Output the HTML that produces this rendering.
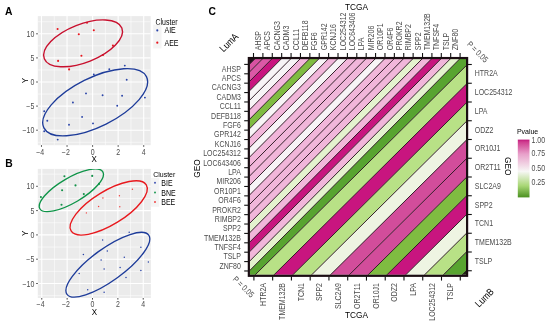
<!DOCTYPE html>
<html><head><meta charset="utf-8"><style>
html,body{margin:0;padding:0;background:#fff;width:550px;height:329px;overflow:hidden;position:relative}
svg text{font-family:"Liberation Sans", sans-serif}
</style></head><body>
<svg width="550" height="329" viewBox="0 0 550 329" style="position:absolute;left:0;top:0;will-change:transform" font-family='"Liberation Sans", sans-serif'>
<rect width="550" height="329" fill="#fff"/>
<text transform="translate(5.1 14.5)" font-size="10.3" fill="#000" text-anchor="start" font-weight="bold">A</text>
<text transform="translate(5.3 167.1)" font-size="10.3" fill="#000" text-anchor="start" font-weight="bold">B</text>
<text transform="translate(208.5 14.5)" font-size="10.3" fill="#000" text-anchor="start" font-weight="bold">C</text>
<rect x="37.8" y="16.1" width="112.9" height="129.1" fill="#EBEBEB"/>
<clipPath id="cA"><rect x="37.8" y="16.1" width="112.9" height="129.1"/></clipPath>
<g clip-path="url(#cA)">
<line x1="28.7" y1="16.1" x2="28.7" y2="145.2" stroke="#fff" stroke-width="0.55"/>
<line x1="54.26" y1="16.1" x2="54.26" y2="145.2" stroke="#fff" stroke-width="0.55"/>
<line x1="79.82" y1="16.1" x2="79.82" y2="145.2" stroke="#fff" stroke-width="0.55"/>
<line x1="105.38" y1="16.1" x2="105.38" y2="145.2" stroke="#fff" stroke-width="0.55"/>
<line x1="130.94" y1="16.1" x2="130.94" y2="145.2" stroke="#fff" stroke-width="0.55"/>
<line x1="156.5" y1="16.1" x2="156.5" y2="145.2" stroke="#fff" stroke-width="0.55"/>
<line x1="37.8" y1="142.25" x2="150.7" y2="142.25" stroke="#fff" stroke-width="0.55"/>
<line x1="37.8" y1="118.15" x2="150.7" y2="118.15" stroke="#fff" stroke-width="0.55"/>
<line x1="37.8" y1="94.05" x2="150.7" y2="94.05" stroke="#fff" stroke-width="0.55"/>
<line x1="37.8" y1="69.95" x2="150.7" y2="69.95" stroke="#fff" stroke-width="0.55"/>
<line x1="37.8" y1="45.85" x2="150.7" y2="45.85" stroke="#fff" stroke-width="0.55"/>
<line x1="37.8" y1="21.75" x2="150.7" y2="21.75" stroke="#fff" stroke-width="0.55"/>
<line x1="41.48" y1="16.1" x2="41.48" y2="145.2" stroke="#fff" stroke-width="1.1"/>
<line x1="67.04" y1="16.1" x2="67.04" y2="145.2" stroke="#fff" stroke-width="1.1"/>
<line x1="92.6" y1="16.1" x2="92.6" y2="145.2" stroke="#fff" stroke-width="1.1"/>
<line x1="118.16" y1="16.1" x2="118.16" y2="145.2" stroke="#fff" stroke-width="1.1"/>
<line x1="143.72" y1="16.1" x2="143.72" y2="145.2" stroke="#fff" stroke-width="1.1"/>
<line x1="37.8" y1="130.2" x2="150.7" y2="130.2" stroke="#fff" stroke-width="1.1"/>
<line x1="37.8" y1="106.1" x2="150.7" y2="106.1" stroke="#fff" stroke-width="1.1"/>
<line x1="37.8" y1="82" x2="150.7" y2="82" stroke="#fff" stroke-width="1.1"/>
<line x1="37.8" y1="57.9" x2="150.7" y2="57.9" stroke="#fff" stroke-width="1.1"/>
<line x1="37.8" y1="33.8" x2="150.7" y2="33.8" stroke="#fff" stroke-width="1.1"/>
<circle cx="57.6" cy="29" r="1.05" fill="#E8161E"/>
<circle cx="78.8" cy="34.2" r="1.05" fill="#E8161E"/>
<circle cx="87" cy="22.7" r="1.05" fill="#E8161E"/>
<circle cx="93.8" cy="30.3" r="1.05" fill="#E8161E"/>
<circle cx="112.9" cy="45.6" r="1.05" fill="#E8161E"/>
<circle cx="103" cy="55" r="1.05" fill="#E8161E"/>
<circle cx="81.4" cy="55.8" r="1.05" fill="#E8161E"/>
<circle cx="58.1" cy="60.9" r="1.05" fill="#E8161E"/>
<circle cx="69.1" cy="69.4" r="1.05" fill="#E8161E"/>
<circle cx="44.2" cy="111.2" r="0.95" fill="#2A44A8"/>
<circle cx="47.3" cy="120.8" r="0.95" fill="#2A44A8"/>
<circle cx="44.2" cy="131.3" r="0.95" fill="#2A44A8"/>
<circle cx="57.7" cy="139.6" r="0.95" fill="#2A44A8"/>
<circle cx="69" cy="124.7" r="0.95" fill="#2A44A8"/>
<circle cx="72.9" cy="102.5" r="0.95" fill="#2A44A8"/>
<circle cx="82.1" cy="116.9" r="0.95" fill="#2A44A8"/>
<circle cx="93" cy="123.4" r="0.95" fill="#2A44A8"/>
<circle cx="86" cy="93.4" r="0.95" fill="#2A44A8"/>
<circle cx="93.8" cy="74.4" r="0.95" fill="#2A44A8"/>
<circle cx="102.6" cy="95.2" r="0.95" fill="#2A44A8"/>
<circle cx="109.3" cy="69.3" r="0.95" fill="#2A44A8"/>
<circle cx="117.2" cy="105.8" r="0.95" fill="#2A44A8"/>
<circle cx="122.1" cy="95.7" r="0.95" fill="#2A44A8"/>
<circle cx="124.8" cy="65.6" r="0.95" fill="#2A44A8"/>
<circle cx="126.7" cy="79.7" r="0.95" fill="#2A44A8"/>
<circle cx="144.9" cy="97.6" r="0.95" fill="#2A44A8"/>
<ellipse cx="83.09" cy="43.33" rx="41.68" ry="19.11" transform="rotate(158.46 83.09 43.33)" fill="none" stroke="#C8102E" stroke-width="1.4"/>
<ellipse cx="95.17" cy="102.24" rx="57.3" ry="24.38" transform="rotate(153.48 95.17 102.24)" fill="none" stroke="#1E3C9A" stroke-width="1.35"/>
</g>
<line x1="36.2" y1="130.2" x2="37.8" y2="130.2" stroke="#333" stroke-width="0.9"/>
<text transform="translate(34.3 133.26) scale(1 1.2)" font-size="7" fill="#4D4D4D" text-anchor="end">−10</text>
<line x1="36.2" y1="106.1" x2="37.8" y2="106.1" stroke="#333" stroke-width="0.9"/>
<text transform="translate(34.3 109.16) scale(1 1.2)" font-size="7" fill="#4D4D4D" text-anchor="end">−5</text>
<line x1="36.2" y1="82" x2="37.8" y2="82" stroke="#333" stroke-width="0.9"/>
<text transform="translate(34.3 85.06) scale(1 1.2)" font-size="7" fill="#4D4D4D" text-anchor="end">0</text>
<line x1="36.2" y1="57.9" x2="37.8" y2="57.9" stroke="#333" stroke-width="0.9"/>
<text transform="translate(34.3 60.96) scale(1 1.2)" font-size="7" fill="#4D4D4D" text-anchor="end">5</text>
<line x1="36.2" y1="33.8" x2="37.8" y2="33.8" stroke="#333" stroke-width="0.9"/>
<text transform="translate(34.3 36.86) scale(1 1.2)" font-size="7" fill="#4D4D4D" text-anchor="end">10</text>
<line x1="41.48" y1="145.2" x2="41.48" y2="146.8" stroke="#333" stroke-width="0.9"/>
<text transform="translate(40.28 154.8) scale(1 1.2)" font-size="7" fill="#4D4D4D" text-anchor="middle">−4</text>
<line x1="67.04" y1="145.2" x2="67.04" y2="146.8" stroke="#333" stroke-width="0.9"/>
<text transform="translate(65.84 154.8) scale(1 1.2)" font-size="7" fill="#4D4D4D" text-anchor="middle">−2</text>
<line x1="92.6" y1="145.2" x2="92.6" y2="146.8" stroke="#333" stroke-width="0.9"/>
<text transform="translate(92.6 154.8) scale(1 1.2)" font-size="7" fill="#4D4D4D" text-anchor="middle">0</text>
<line x1="118.16" y1="145.2" x2="118.16" y2="146.8" stroke="#333" stroke-width="0.9"/>
<text transform="translate(118.16 154.8) scale(1 1.2)" font-size="7" fill="#4D4D4D" text-anchor="middle">2</text>
<line x1="143.72" y1="145.2" x2="143.72" y2="146.8" stroke="#333" stroke-width="0.9"/>
<text transform="translate(143.72 154.8) scale(1 1.2)" font-size="7" fill="#4D4D4D" text-anchor="middle">4</text>
<text transform="translate(94.25 161.7) scale(1 1.2)" font-size="8" fill="#000" text-anchor="middle">X</text>
<text transform="translate(27.6 80.65) rotate(-90) scale(1 1.2)" font-size="8" fill="#000" text-anchor="middle">Y</text>
<text transform="translate(155.5 24.6) scale(1 1.2)" font-size="7" fill="#000" text-anchor="start">Cluster</text>
<rect x="153.2" y="24.65" width="8.3" height="23.8" fill="#F4F4F4"/>
<circle cx="157.3" cy="30.4" r="1.05" fill="#2A44A8"/>
<text transform="translate(164.5 33.46) scale(1 1.2)" font-size="7" fill="#000" text-anchor="start">AIE</text>
<circle cx="157.3" cy="42.7" r="1.1" fill="#E8161E"/>
<text transform="translate(164.5 45.76) scale(1 1.2)" font-size="7" fill="#000" text-anchor="start">AEE</text>
<rect x="37.8" y="168.9" width="113.1" height="129.1" fill="#EBEBEB"/>
<clipPath id="cB"><rect x="37.8" y="168.9" width="113.1" height="129.1"/></clipPath>
<g clip-path="url(#cB)">
<line x1="29.1" y1="168.9" x2="29.1" y2="298" stroke="#fff" stroke-width="0.55"/>
<line x1="54.46" y1="168.9" x2="54.46" y2="298" stroke="#fff" stroke-width="0.55"/>
<line x1="79.82" y1="168.9" x2="79.82" y2="298" stroke="#fff" stroke-width="0.55"/>
<line x1="105.18" y1="168.9" x2="105.18" y2="298" stroke="#fff" stroke-width="0.55"/>
<line x1="130.54" y1="168.9" x2="130.54" y2="298" stroke="#fff" stroke-width="0.55"/>
<line x1="155.9" y1="168.9" x2="155.9" y2="298" stroke="#fff" stroke-width="0.55"/>
<line x1="37.8" y1="295.65" x2="150.9" y2="295.65" stroke="#fff" stroke-width="0.55"/>
<line x1="37.8" y1="271.35" x2="150.9" y2="271.35" stroke="#fff" stroke-width="0.55"/>
<line x1="37.8" y1="247.05" x2="150.9" y2="247.05" stroke="#fff" stroke-width="0.55"/>
<line x1="37.8" y1="222.75" x2="150.9" y2="222.75" stroke="#fff" stroke-width="0.55"/>
<line x1="37.8" y1="198.45" x2="150.9" y2="198.45" stroke="#fff" stroke-width="0.55"/>
<line x1="37.8" y1="174.15" x2="150.9" y2="174.15" stroke="#fff" stroke-width="0.55"/>
<line x1="41.78" y1="168.9" x2="41.78" y2="298" stroke="#fff" stroke-width="1.1"/>
<line x1="67.14" y1="168.9" x2="67.14" y2="298" stroke="#fff" stroke-width="1.1"/>
<line x1="92.5" y1="168.9" x2="92.5" y2="298" stroke="#fff" stroke-width="1.1"/>
<line x1="117.86" y1="168.9" x2="117.86" y2="298" stroke="#fff" stroke-width="1.1"/>
<line x1="143.22" y1="168.9" x2="143.22" y2="298" stroke="#fff" stroke-width="1.1"/>
<line x1="37.8" y1="283.5" x2="150.9" y2="283.5" stroke="#fff" stroke-width="1.1"/>
<line x1="37.8" y1="259.2" x2="150.9" y2="259.2" stroke="#fff" stroke-width="1.1"/>
<line x1="37.8" y1="234.9" x2="150.9" y2="234.9" stroke="#fff" stroke-width="1.1"/>
<line x1="37.8" y1="210.6" x2="150.9" y2="210.6" stroke="#fff" stroke-width="1.1"/>
<line x1="37.8" y1="186.3" x2="150.9" y2="186.3" stroke="#fff" stroke-width="1.1"/>
<circle cx="64.4" cy="176.3" r="1.05" fill="#15924A"/>
<circle cx="92.2" cy="175.9" r="1.05" fill="#15924A"/>
<circle cx="75.5" cy="185.4" r="1.05" fill="#15924A"/>
<circle cx="62.1" cy="190.3" r="1.05" fill="#15924A"/>
<circle cx="83.8" cy="194.1" r="1.05" fill="#15924A"/>
<circle cx="40.9" cy="197.1" r="1.05" fill="#15924A"/>
<circle cx="61.5" cy="204.7" r="1.05" fill="#15924A"/>
<circle cx="99" cy="183.9" r="1.05" fill="#15924A"/>
<circle cx="132.4" cy="189.2" r="0.7" fill="#F04040"/>
<circle cx="119.4" cy="195.8" r="0.7" fill="#F04040"/>
<circle cx="102.9" cy="198" r="0.7" fill="#F04040"/>
<circle cx="98.6" cy="206.5" r="0.7" fill="#F04040"/>
<circle cx="119.8" cy="206.7" r="0.7" fill="#F04040"/>
<circle cx="86.4" cy="212.9" r="0.7" fill="#F04040"/>
<circle cx="129.2" cy="232.3" r="0.75" fill="#2A44A8"/>
<circle cx="102.6" cy="240.1" r="0.75" fill="#2A44A8"/>
<circle cx="140.9" cy="247.2" r="0.75" fill="#2A44A8"/>
<circle cx="83.4" cy="254.6" r="0.75" fill="#2A44A8"/>
<circle cx="107.3" cy="251" r="0.75" fill="#2A44A8"/>
<circle cx="124.3" cy="257.2" r="0.75" fill="#2A44A8"/>
<circle cx="101.1" cy="260" r="0.75" fill="#2A44A8"/>
<circle cx="148.4" cy="262.1" r="0.75" fill="#2A44A8"/>
<circle cx="120.1" cy="267.4" r="0.75" fill="#2A44A8"/>
<circle cx="104.1" cy="268.9" r="0.75" fill="#2A44A8"/>
<circle cx="140.9" cy="270.6" r="0.75" fill="#2A44A8"/>
<circle cx="79.2" cy="273.4" r="0.75" fill="#2A44A8"/>
<circle cx="126" cy="277.6" r="0.75" fill="#2A44A8"/>
<circle cx="87.7" cy="289.8" r="0.75" fill="#2A44A8"/>
<circle cx="104.1" cy="292.3" r="0.75" fill="#2A44A8"/>
<ellipse cx="71.34" cy="190.3" rx="36.49" ry="12.4" transform="rotate(149.62 71.34 190.3)" fill="none" stroke="#0E9448" stroke-width="1.35"/>
<ellipse cx="108.7" cy="207.9" rx="44.09" ry="16.76" transform="rotate(148.51 108.7 207.9)" fill="none" stroke="#E8191E" stroke-width="1.35"/>
<ellipse cx="107.87" cy="264.7" rx="50.43" ry="16.11" transform="rotate(144.09 107.87 264.7)" fill="none" stroke="#1E3C9A" stroke-width="1.35"/>
</g>
<line x1="36.2" y1="283.5" x2="37.8" y2="283.5" stroke="#333" stroke-width="0.9"/>
<text transform="translate(34.3 286.56) scale(1 1.2)" font-size="7" fill="#4D4D4D" text-anchor="end">−10</text>
<line x1="36.2" y1="259.2" x2="37.8" y2="259.2" stroke="#333" stroke-width="0.9"/>
<text transform="translate(34.3 262.26) scale(1 1.2)" font-size="7" fill="#4D4D4D" text-anchor="end">−5</text>
<line x1="36.2" y1="234.9" x2="37.8" y2="234.9" stroke="#333" stroke-width="0.9"/>
<text transform="translate(34.3 237.96) scale(1 1.2)" font-size="7" fill="#4D4D4D" text-anchor="end">0</text>
<line x1="36.2" y1="210.6" x2="37.8" y2="210.6" stroke="#333" stroke-width="0.9"/>
<text transform="translate(34.3 213.66) scale(1 1.2)" font-size="7" fill="#4D4D4D" text-anchor="end">5</text>
<line x1="36.2" y1="186.3" x2="37.8" y2="186.3" stroke="#333" stroke-width="0.9"/>
<text transform="translate(34.3 189.36) scale(1 1.2)" font-size="7" fill="#4D4D4D" text-anchor="end">10</text>
<line x1="41.78" y1="298" x2="41.78" y2="299.6" stroke="#333" stroke-width="0.9"/>
<text transform="translate(40.58 307) scale(1 1.2)" font-size="7" fill="#4D4D4D" text-anchor="middle">−4</text>
<line x1="67.14" y1="298" x2="67.14" y2="299.6" stroke="#333" stroke-width="0.9"/>
<text transform="translate(65.94 307) scale(1 1.2)" font-size="7" fill="#4D4D4D" text-anchor="middle">−2</text>
<line x1="92.5" y1="298" x2="92.5" y2="299.6" stroke="#333" stroke-width="0.9"/>
<text transform="translate(92.5 307) scale(1 1.2)" font-size="7" fill="#4D4D4D" text-anchor="middle">0</text>
<line x1="117.86" y1="298" x2="117.86" y2="299.6" stroke="#333" stroke-width="0.9"/>
<text transform="translate(117.86 307) scale(1 1.2)" font-size="7" fill="#4D4D4D" text-anchor="middle">2</text>
<line x1="143.22" y1="298" x2="143.22" y2="299.6" stroke="#333" stroke-width="0.9"/>
<text transform="translate(143.22 307) scale(1 1.2)" font-size="7" fill="#4D4D4D" text-anchor="middle">4</text>
<text transform="translate(94.35 314.5) scale(1 1.2)" font-size="8" fill="#000" text-anchor="middle">X</text>
<text transform="translate(27.6 233.45) rotate(-90) scale(1 1.2)" font-size="8" fill="#000" text-anchor="middle">Y</text>
<text transform="translate(153.2 176.8) scale(1 1.05)" font-size="7" fill="#000" text-anchor="start">Cluster</text>
<rect x="150.9" y="178.05" width="8.3" height="28.7" fill="#F4F4F4"/>
<circle cx="155" cy="182.8" r="0.95" fill="#3A4DB0"/>
<text transform="translate(161.3 185.86) scale(1 1.2)" font-size="7" fill="#000" text-anchor="start">BIE</text>
<circle cx="155" cy="192.5" r="0.95" fill="#1A9850"/>
<text transform="translate(161.3 195.56) scale(1 1.2)" font-size="7" fill="#000" text-anchor="start">BNE</text>
<circle cx="155" cy="202" r="0.95" fill="#EE3B3B"/>
<text transform="translate(161.3 205.06) scale(1 1.2)" font-size="7" fill="#000" text-anchor="start">BEE</text>
<clipPath id="cH"><rect x="249.9" y="59.1" width="216.1" height="215.6"/></clipPath>
<g clip-path="url(#cH)">
<polygon points="-54.1,54.1 259.7,54.1 34.1,279.7 -279.7,279.7" fill="#22101a"/>
<polygon points="259.7,54.1 267.25,54.1 43.45,279.7 34.1,279.7" fill="#D952A2"/>
<polygon points="267.25,54.1 276.64,54.1 52.84,279.7 43.45,279.7" fill="#DB58A6"/>
<polygon points="276.64,54.1 286.03,54.1 62.23,279.7 52.84,279.7" fill="#C8157F"/>
<polygon points="286.03,54.1 295.42,54.1 71.62,279.7 62.23,279.7" fill="#F7F4F6"/>
<polygon points="295.42,54.1 304.81,54.1 81.01,279.7 71.62,279.7" fill="#F7F4F6"/>
<polygon points="304.81,54.1 314.2,54.1 90.4,279.7 81.01,279.7" fill="#F1B6DA"/>
<polygon points="314.2,54.1 323.59,54.1 99.79,279.7 90.4,279.7" fill="#7FBC41"/>
<polygon points="323.59,54.1 332.98,54.1 109.18,279.7 99.79,279.7" fill="#F7F4F6"/>
<polygon points="332.98,54.1 342.37,54.1 118.57,279.7 109.18,279.7" fill="#F1B6DA"/>
<polygon points="342.37,54.1 351.76,54.1 127.96,279.7 118.57,279.7" fill="#F7F4F6"/>
<polygon points="351.76,54.1 361.15,54.1 137.35,279.7 127.96,279.7" fill="#F1B6DA"/>
<polygon points="361.15,54.1 370.54,54.1 146.74,279.7 137.35,279.7" fill="#F1B6DA"/>
<polygon points="370.54,54.1 379.93,54.1 156.13,279.7 146.74,279.7" fill="#F1B6DA"/>
<polygon points="379.93,54.1 389.32,54.1 165.52,279.7 156.13,279.7" fill="#F7F4F6"/>
<polygon points="389.32,54.1 398.71,54.1 174.91,279.7 165.52,279.7" fill="#F1B6DA"/>
<polygon points="398.71,54.1 408.1,54.1 184.3,279.7 174.91,279.7" fill="#F1B6DA"/>
<polygon points="408.1,54.1 417.49,54.1 193.69,279.7 184.3,279.7" fill="#F1B6DA"/>
<polygon points="417.49,54.1 426.88,54.1 203.08,279.7 193.69,279.7" fill="#E4F3CE"/>
<polygon points="426.88,54.1 436.27,54.1 212.47,279.7 203.08,279.7" fill="#F1B6DA"/>
<polygon points="436.27,54.1 445.66,54.1 221.86,279.7 212.47,279.7" fill="#C8157F"/>
<polygon points="445.66,54.1 455.05,54.1 231.25,279.7 221.86,279.7" fill="#F1B6DA"/>
<polygon points="455.05,54.1 464.44,54.1 240.64,279.7 231.25,279.7" fill="#E4F3CE"/>
<polygon points="464.44,54.1 477.91,54.1 250.28,279.7 240.64,279.7" fill="#58A430"/>
<polygon points="477.91,54.1 496.72,54.1 269.09,279.7 250.28,279.7" fill="#B8E186"/>
<polygon points="496.72,54.1 515.54,54.1 287.91,279.7 269.09,279.7" fill="#C8157F"/>
<polygon points="515.54,54.1 534.36,54.1 306.73,279.7 287.91,279.7" fill="#B8E186"/>
<polygon points="534.36,54.1 553.18,54.1 325.55,279.7 306.73,279.7" fill="#EEF4E2"/>
<polygon points="553.18,54.1 572,54.1 344.37,279.7 325.55,279.7" fill="#D24D9B"/>
<polygon points="572,54.1 590.81,54.1 363.18,279.7 344.37,279.7" fill="#D24D9B"/>
<polygon points="590.81,54.1 609.63,54.1 382,279.7 363.18,279.7" fill="#7FBC41"/>
<polygon points="609.63,54.1 628.45,54.1 400.82,279.7 382,279.7" fill="#C8157F"/>
<polygon points="628.45,54.1 647.27,54.1 419.64,279.7 400.82,279.7" fill="#EEF4E2"/>
<polygon points="647.27,54.1 666.08,54.1 438.45,279.7 419.64,279.7" fill="#B8E186"/>
<polygon points="666.08,54.1 684.9,54.1 457.27,279.7 438.45,279.7" fill="#58A430"/>
<polygon points="684.9,54.1 905,54.1 679.4,279.7 457.27,279.7" fill="#1e2a10"/>
<line x1="259.7" y1="54.1" x2="34.1" y2="279.7" stroke="#2a1520" stroke-width="0.95"/>
<line x1="267.25" y1="54.1" x2="43.45" y2="279.7" stroke="#2a1520" stroke-width="0.95"/>
<line x1="276.64" y1="54.1" x2="52.84" y2="279.7" stroke="#2a1520" stroke-width="0.95"/>
<line x1="286.03" y1="54.1" x2="62.23" y2="279.7" stroke="#2a1520" stroke-width="0.95"/>
<line x1="295.42" y1="54.1" x2="71.62" y2="279.7" stroke="#2a1520" stroke-width="0.95"/>
<line x1="304.81" y1="54.1" x2="81.01" y2="279.7" stroke="#2a1520" stroke-width="0.95"/>
<line x1="314.2" y1="54.1" x2="90.4" y2="279.7" stroke="#2a1520" stroke-width="0.95"/>
<line x1="323.59" y1="54.1" x2="99.79" y2="279.7" stroke="#2a1520" stroke-width="0.95"/>
<line x1="332.98" y1="54.1" x2="109.18" y2="279.7" stroke="#2a1520" stroke-width="0.95"/>
<line x1="342.37" y1="54.1" x2="118.57" y2="279.7" stroke="#2a1520" stroke-width="0.95"/>
<line x1="351.76" y1="54.1" x2="127.96" y2="279.7" stroke="#2a1520" stroke-width="0.95"/>
<line x1="361.15" y1="54.1" x2="137.35" y2="279.7" stroke="#2a1520" stroke-width="0.95"/>
<line x1="370.54" y1="54.1" x2="146.74" y2="279.7" stroke="#2a1520" stroke-width="0.95"/>
<line x1="379.93" y1="54.1" x2="156.13" y2="279.7" stroke="#2a1520" stroke-width="0.95"/>
<line x1="389.32" y1="54.1" x2="165.52" y2="279.7" stroke="#2a1520" stroke-width="0.95"/>
<line x1="398.71" y1="54.1" x2="174.91" y2="279.7" stroke="#2a1520" stroke-width="0.95"/>
<line x1="408.1" y1="54.1" x2="184.3" y2="279.7" stroke="#2a1520" stroke-width="0.95"/>
<line x1="417.49" y1="54.1" x2="193.69" y2="279.7" stroke="#2a1520" stroke-width="0.95"/>
<line x1="426.88" y1="54.1" x2="203.08" y2="279.7" stroke="#2a1520" stroke-width="0.95"/>
<line x1="436.27" y1="54.1" x2="212.47" y2="279.7" stroke="#2a1520" stroke-width="0.95"/>
<line x1="445.66" y1="54.1" x2="221.86" y2="279.7" stroke="#2a1520" stroke-width="0.95"/>
<line x1="455.05" y1="54.1" x2="231.25" y2="279.7" stroke="#2a1520" stroke-width="0.95"/>
<line x1="464.44" y1="54.1" x2="240.64" y2="279.7" stroke="#2a1520" stroke-width="0.95"/>
<line x1="477.91" y1="54.1" x2="250.28" y2="279.7" stroke="#2a1520" stroke-width="0.95"/>
<line x1="496.72" y1="54.1" x2="269.09" y2="279.7" stroke="#2a1520" stroke-width="0.95"/>
<line x1="515.54" y1="54.1" x2="287.91" y2="279.7" stroke="#2a1520" stroke-width="0.95"/>
<line x1="534.36" y1="54.1" x2="306.73" y2="279.7" stroke="#2a1520" stroke-width="0.95"/>
<line x1="553.18" y1="54.1" x2="325.55" y2="279.7" stroke="#2a1520" stroke-width="0.95"/>
<line x1="572" y1="54.1" x2="344.37" y2="279.7" stroke="#2a1520" stroke-width="0.95"/>
<line x1="590.81" y1="54.1" x2="363.18" y2="279.7" stroke="#2a1520" stroke-width="0.95"/>
<line x1="609.63" y1="54.1" x2="382" y2="279.7" stroke="#2a1520" stroke-width="0.95"/>
<line x1="628.45" y1="54.1" x2="400.82" y2="279.7" stroke="#2a1520" stroke-width="0.95"/>
<line x1="647.27" y1="54.1" x2="419.64" y2="279.7" stroke="#2a1520" stroke-width="0.95"/>
<line x1="666.08" y1="54.1" x2="438.45" y2="279.7" stroke="#2a1520" stroke-width="0.95"/>
<line x1="684.9" y1="54.1" x2="457.27" y2="279.7" stroke="#2a1520" stroke-width="0.95"/>
</g>
<rect x="248.85" y="58.05" width="218.25" height="217.75" fill="none" stroke="#1a0d12" stroke-width="2.2"/>
<line x1="253.5" y1="53" x2="253.5" y2="57.5" stroke="#111" stroke-width="1.1"/>
<line x1="244.2" y1="64.4" x2="248.5" y2="64.4" stroke="#111" stroke-width="1.1"/>
<line x1="262.89" y1="53" x2="262.89" y2="57.5" stroke="#111" stroke-width="1.1"/>
<line x1="244.2" y1="73.79" x2="248.5" y2="73.79" stroke="#111" stroke-width="1.1"/>
<line x1="272.28" y1="53" x2="272.28" y2="57.5" stroke="#111" stroke-width="1.1"/>
<line x1="244.2" y1="83.18" x2="248.5" y2="83.18" stroke="#111" stroke-width="1.1"/>
<line x1="281.67" y1="53" x2="281.67" y2="57.5" stroke="#111" stroke-width="1.1"/>
<line x1="244.2" y1="92.57" x2="248.5" y2="92.57" stroke="#111" stroke-width="1.1"/>
<line x1="291.06" y1="53" x2="291.06" y2="57.5" stroke="#111" stroke-width="1.1"/>
<line x1="244.2" y1="101.96" x2="248.5" y2="101.96" stroke="#111" stroke-width="1.1"/>
<line x1="300.45" y1="53" x2="300.45" y2="57.5" stroke="#111" stroke-width="1.1"/>
<line x1="244.2" y1="111.35" x2="248.5" y2="111.35" stroke="#111" stroke-width="1.1"/>
<line x1="309.84" y1="53" x2="309.84" y2="57.5" stroke="#111" stroke-width="1.1"/>
<line x1="244.2" y1="120.74" x2="248.5" y2="120.74" stroke="#111" stroke-width="1.1"/>
<line x1="319.23" y1="53" x2="319.23" y2="57.5" stroke="#111" stroke-width="1.1"/>
<line x1="244.2" y1="130.13" x2="248.5" y2="130.13" stroke="#111" stroke-width="1.1"/>
<line x1="328.62" y1="53" x2="328.62" y2="57.5" stroke="#111" stroke-width="1.1"/>
<line x1="244.2" y1="139.52" x2="248.5" y2="139.52" stroke="#111" stroke-width="1.1"/>
<line x1="338.01" y1="53" x2="338.01" y2="57.5" stroke="#111" stroke-width="1.1"/>
<line x1="244.2" y1="148.91" x2="248.5" y2="148.91" stroke="#111" stroke-width="1.1"/>
<line x1="347.4" y1="53" x2="347.4" y2="57.5" stroke="#111" stroke-width="1.1"/>
<line x1="244.2" y1="158.3" x2="248.5" y2="158.3" stroke="#111" stroke-width="1.1"/>
<line x1="356.79" y1="53" x2="356.79" y2="57.5" stroke="#111" stroke-width="1.1"/>
<line x1="244.2" y1="167.69" x2="248.5" y2="167.69" stroke="#111" stroke-width="1.1"/>
<line x1="366.18" y1="53" x2="366.18" y2="57.5" stroke="#111" stroke-width="1.1"/>
<line x1="244.2" y1="177.08" x2="248.5" y2="177.08" stroke="#111" stroke-width="1.1"/>
<line x1="375.57" y1="53" x2="375.57" y2="57.5" stroke="#111" stroke-width="1.1"/>
<line x1="244.2" y1="186.47" x2="248.5" y2="186.47" stroke="#111" stroke-width="1.1"/>
<line x1="384.96" y1="53" x2="384.96" y2="57.5" stroke="#111" stroke-width="1.1"/>
<line x1="244.2" y1="195.86" x2="248.5" y2="195.86" stroke="#111" stroke-width="1.1"/>
<line x1="394.35" y1="53" x2="394.35" y2="57.5" stroke="#111" stroke-width="1.1"/>
<line x1="244.2" y1="205.25" x2="248.5" y2="205.25" stroke="#111" stroke-width="1.1"/>
<line x1="403.74" y1="53" x2="403.74" y2="57.5" stroke="#111" stroke-width="1.1"/>
<line x1="244.2" y1="214.64" x2="248.5" y2="214.64" stroke="#111" stroke-width="1.1"/>
<line x1="413.13" y1="53" x2="413.13" y2="57.5" stroke="#111" stroke-width="1.1"/>
<line x1="244.2" y1="224.03" x2="248.5" y2="224.03" stroke="#111" stroke-width="1.1"/>
<line x1="422.52" y1="53" x2="422.52" y2="57.5" stroke="#111" stroke-width="1.1"/>
<line x1="244.2" y1="233.42" x2="248.5" y2="233.42" stroke="#111" stroke-width="1.1"/>
<line x1="431.91" y1="53" x2="431.91" y2="57.5" stroke="#111" stroke-width="1.1"/>
<line x1="244.2" y1="242.81" x2="248.5" y2="242.81" stroke="#111" stroke-width="1.1"/>
<line x1="441.3" y1="53" x2="441.3" y2="57.5" stroke="#111" stroke-width="1.1"/>
<line x1="244.2" y1="252.2" x2="248.5" y2="252.2" stroke="#111" stroke-width="1.1"/>
<line x1="450.69" y1="53" x2="450.69" y2="57.5" stroke="#111" stroke-width="1.1"/>
<line x1="244.2" y1="261.59" x2="248.5" y2="261.59" stroke="#111" stroke-width="1.1"/>
<line x1="460.08" y1="53" x2="460.08" y2="57.5" stroke="#111" stroke-width="1.1"/>
<line x1="244.2" y1="270.98" x2="248.5" y2="270.98" stroke="#111" stroke-width="1.1"/>
<line x1="467.5" y1="64.5" x2="471.8" y2="64.5" stroke="#111" stroke-width="1.1"/>
<line x1="253.9" y1="276.5" x2="253.9" y2="280.6" stroke="#111" stroke-width="1.1"/>
<line x1="467.5" y1="83.25" x2="471.8" y2="83.25" stroke="#111" stroke-width="1.1"/>
<line x1="272.66" y1="276.5" x2="272.66" y2="280.6" stroke="#111" stroke-width="1.1"/>
<line x1="467.5" y1="102" x2="471.8" y2="102" stroke="#111" stroke-width="1.1"/>
<line x1="291.42" y1="276.5" x2="291.42" y2="280.6" stroke="#111" stroke-width="1.1"/>
<line x1="467.5" y1="120.75" x2="471.8" y2="120.75" stroke="#111" stroke-width="1.1"/>
<line x1="310.18" y1="276.5" x2="310.18" y2="280.6" stroke="#111" stroke-width="1.1"/>
<line x1="467.5" y1="139.5" x2="471.8" y2="139.5" stroke="#111" stroke-width="1.1"/>
<line x1="328.94" y1="276.5" x2="328.94" y2="280.6" stroke="#111" stroke-width="1.1"/>
<line x1="467.5" y1="158.25" x2="471.8" y2="158.25" stroke="#111" stroke-width="1.1"/>
<line x1="347.7" y1="276.5" x2="347.7" y2="280.6" stroke="#111" stroke-width="1.1"/>
<line x1="467.5" y1="177" x2="471.8" y2="177" stroke="#111" stroke-width="1.1"/>
<line x1="366.46" y1="276.5" x2="366.46" y2="280.6" stroke="#111" stroke-width="1.1"/>
<line x1="467.5" y1="195.75" x2="471.8" y2="195.75" stroke="#111" stroke-width="1.1"/>
<line x1="385.22" y1="276.5" x2="385.22" y2="280.6" stroke="#111" stroke-width="1.1"/>
<line x1="467.5" y1="214.5" x2="471.8" y2="214.5" stroke="#111" stroke-width="1.1"/>
<line x1="403.98" y1="276.5" x2="403.98" y2="280.6" stroke="#111" stroke-width="1.1"/>
<line x1="467.5" y1="233.25" x2="471.8" y2="233.25" stroke="#111" stroke-width="1.1"/>
<line x1="422.74" y1="276.5" x2="422.74" y2="280.6" stroke="#111" stroke-width="1.1"/>
<line x1="467.5" y1="252" x2="471.8" y2="252" stroke="#111" stroke-width="1.1"/>
<line x1="441.5" y1="276.5" x2="441.5" y2="280.6" stroke="#111" stroke-width="1.1"/>
<line x1="467.5" y1="270.75" x2="471.8" y2="270.75" stroke="#111" stroke-width="1.1"/>
<line x1="460.26" y1="276.5" x2="460.26" y2="280.6" stroke="#111" stroke-width="1.1"/>
<text transform="translate(261.06 50.2) rotate(-90) scale(1 1.2)" font-size="7" fill="#4D4D4D" text-anchor="start">AHSP</text>
<text transform="translate(240.9 71.66) scale(1 1.2)" font-size="7" fill="#4D4D4D" text-anchor="end">AHSP</text>
<text transform="translate(270.45 50.2) rotate(-90) scale(1 1.2)" font-size="7" fill="#4D4D4D" text-anchor="start">APCS</text>
<text transform="translate(240.9 81.05) scale(1 1.2)" font-size="7" fill="#4D4D4D" text-anchor="end">APCS</text>
<text transform="translate(279.84 50.2) rotate(-90) scale(1 1.2)" font-size="7" fill="#4D4D4D" text-anchor="start">CACNG3</text>
<text transform="translate(240.9 90.44) scale(1 1.2)" font-size="7" fill="#4D4D4D" text-anchor="end">CACNG3</text>
<text transform="translate(289.23 50.2) rotate(-90) scale(1 1.2)" font-size="7" fill="#4D4D4D" text-anchor="start">CADM3</text>
<text transform="translate(240.9 99.83) scale(1 1.2)" font-size="7" fill="#4D4D4D" text-anchor="end">CADM3</text>
<text transform="translate(298.62 50.2) rotate(-90) scale(1 1.2)" font-size="7" fill="#4D4D4D" text-anchor="start">CCL11</text>
<text transform="translate(240.9 109.22) scale(1 1.2)" font-size="7" fill="#4D4D4D" text-anchor="end">CCL11</text>
<text transform="translate(308.01 50.2) rotate(-90) scale(1 1.2)" font-size="7" fill="#4D4D4D" text-anchor="start">DEFB118</text>
<text transform="translate(240.9 118.61) scale(1 1.2)" font-size="7" fill="#4D4D4D" text-anchor="end">DEFB118</text>
<text transform="translate(317.4 50.2) rotate(-90) scale(1 1.2)" font-size="7" fill="#4D4D4D" text-anchor="start">FGF6</text>
<text transform="translate(240.9 128) scale(1 1.2)" font-size="7" fill="#4D4D4D" text-anchor="end">FGF6</text>
<text transform="translate(326.79 50.2) rotate(-90) scale(1 1.2)" font-size="7" fill="#4D4D4D" text-anchor="start">GPR142</text>
<text transform="translate(240.9 137.39) scale(1 1.2)" font-size="7" fill="#4D4D4D" text-anchor="end">GPR142</text>
<text transform="translate(336.18 50.2) rotate(-90) scale(1 1.2)" font-size="7" fill="#4D4D4D" text-anchor="start">KCNJ16</text>
<text transform="translate(240.9 146.78) scale(1 1.2)" font-size="7" fill="#4D4D4D" text-anchor="end">KCNJ16</text>
<text transform="translate(345.57 50.2) rotate(-90) scale(1 1.2)" font-size="7" fill="#4D4D4D" text-anchor="start">LOC254312</text>
<text transform="translate(240.9 156.17) scale(1 1.2)" font-size="7" fill="#4D4D4D" text-anchor="end">LOC254312</text>
<text transform="translate(354.96 50.2) rotate(-90) scale(1 1.2)" font-size="7" fill="#4D4D4D" text-anchor="start">LOC643406</text>
<text transform="translate(240.9 165.56) scale(1 1.2)" font-size="7" fill="#4D4D4D" text-anchor="end">LOC643406</text>
<text transform="translate(364.35 50.2) rotate(-90) scale(1 1.2)" font-size="7" fill="#4D4D4D" text-anchor="start">LPA</text>
<text transform="translate(240.9 174.95) scale(1 1.2)" font-size="7" fill="#4D4D4D" text-anchor="end">LPA</text>
<text transform="translate(373.74 50.2) rotate(-90) scale(1 1.2)" font-size="7" fill="#4D4D4D" text-anchor="start">MIR206</text>
<text transform="translate(240.9 184.34) scale(1 1.2)" font-size="7" fill="#4D4D4D" text-anchor="end">MIR206</text>
<text transform="translate(383.13 50.2) rotate(-90) scale(1 1.2)" font-size="7" fill="#4D4D4D" text-anchor="start">OR10P1</text>
<text transform="translate(240.9 193.73) scale(1 1.2)" font-size="7" fill="#4D4D4D" text-anchor="end">OR10P1</text>
<text transform="translate(392.52 50.2) rotate(-90) scale(1 1.2)" font-size="7" fill="#4D4D4D" text-anchor="start">OR4F6</text>
<text transform="translate(240.9 203.12) scale(1 1.2)" font-size="7" fill="#4D4D4D" text-anchor="end">OR4F6</text>
<text transform="translate(401.91 50.2) rotate(-90) scale(1 1.2)" font-size="7" fill="#4D4D4D" text-anchor="start">PROKR2</text>
<text transform="translate(240.9 212.51) scale(1 1.2)" font-size="7" fill="#4D4D4D" text-anchor="end">PROKR2</text>
<text transform="translate(411.3 50.2) rotate(-90) scale(1 1.2)" font-size="7" fill="#4D4D4D" text-anchor="start">RIMBP2</text>
<text transform="translate(240.9 221.9) scale(1 1.2)" font-size="7" fill="#4D4D4D" text-anchor="end">RIMBP2</text>
<text transform="translate(420.69 50.2) rotate(-90) scale(1 1.2)" font-size="7" fill="#4D4D4D" text-anchor="start">SPP2</text>
<text transform="translate(240.9 231.29) scale(1 1.2)" font-size="7" fill="#4D4D4D" text-anchor="end">SPP2</text>
<text transform="translate(430.08 50.2) rotate(-90) scale(1 1.2)" font-size="7" fill="#4D4D4D" text-anchor="start">TMEM132B</text>
<text transform="translate(240.9 240.68) scale(1 1.2)" font-size="7" fill="#4D4D4D" text-anchor="end">TMEM132B</text>
<text transform="translate(439.47 50.2) rotate(-90) scale(1 1.2)" font-size="7" fill="#4D4D4D" text-anchor="start">TNFSF4</text>
<text transform="translate(240.9 250.07) scale(1 1.2)" font-size="7" fill="#4D4D4D" text-anchor="end">TNFSF4</text>
<text transform="translate(448.86 50.2) rotate(-90) scale(1 1.2)" font-size="7" fill="#4D4D4D" text-anchor="start">TSLP</text>
<text transform="translate(240.9 259.46) scale(1 1.2)" font-size="7" fill="#4D4D4D" text-anchor="end">TSLP</text>
<text transform="translate(458.25 50.2) rotate(-90) scale(1 1.2)" font-size="7" fill="#4D4D4D" text-anchor="start">ZNF80</text>
<text transform="translate(240.9 268.85) scale(1 1.2)" font-size="7" fill="#4D4D4D" text-anchor="end">ZNF80</text>
<text transform="translate(474.8 76.46) scale(1 1.2)" font-size="7" fill="#4D4D4D" text-anchor="start">HTR2A</text>
<text transform="translate(474.8 95.21) scale(1 1.2)" font-size="7" fill="#4D4D4D" text-anchor="start">LOC254312</text>
<text transform="translate(474.8 113.96) scale(1 1.2)" font-size="7" fill="#4D4D4D" text-anchor="start">LPA</text>
<text transform="translate(474.8 132.71) scale(1 1.2)" font-size="7" fill="#4D4D4D" text-anchor="start">ODZ2</text>
<text transform="translate(474.8 151.46) scale(1 1.2)" font-size="7" fill="#4D4D4D" text-anchor="start">OR10J1</text>
<text transform="translate(474.8 170.21) scale(1 1.2)" font-size="7" fill="#4D4D4D" text-anchor="start">OR2T11</text>
<text transform="translate(474.8 188.96) scale(1 1.2)" font-size="7" fill="#4D4D4D" text-anchor="start">SLC2A9</text>
<text transform="translate(474.8 207.71) scale(1 1.2)" font-size="7" fill="#4D4D4D" text-anchor="start">SPP2</text>
<text transform="translate(474.8 226.46) scale(1 1.2)" font-size="7" fill="#4D4D4D" text-anchor="start">TCN1</text>
<text transform="translate(474.8 245.21) scale(1 1.2)" font-size="7" fill="#4D4D4D" text-anchor="start">TMEM132B</text>
<text transform="translate(474.8 263.96) scale(1 1.2)" font-size="7" fill="#4D4D4D" text-anchor="start">TSLP</text>
<text transform="translate(266.26 283) rotate(-90) scale(1 1.2)" font-size="7" fill="#4D4D4D" text-anchor="end">HTR2A</text>
<text transform="translate(284.98 283) rotate(-90) scale(1 1.2)" font-size="7" fill="#4D4D4D" text-anchor="end">TMEM132B</text>
<text transform="translate(303.7 283) rotate(-90) scale(1 1.2)" font-size="7" fill="#4D4D4D" text-anchor="end">TCN1</text>
<text transform="translate(322.42 283) rotate(-90) scale(1 1.2)" font-size="7" fill="#4D4D4D" text-anchor="end">SPP2</text>
<text transform="translate(341.14 283) rotate(-90) scale(1 1.2)" font-size="7" fill="#4D4D4D" text-anchor="end">SLC2A9</text>
<text transform="translate(359.86 283) rotate(-90) scale(1 1.2)" font-size="7" fill="#4D4D4D" text-anchor="end">OR2T11</text>
<text transform="translate(378.58 283) rotate(-90) scale(1 1.2)" font-size="7" fill="#4D4D4D" text-anchor="end">OR10J1</text>
<text transform="translate(397.3 283) rotate(-90) scale(1 1.2)" font-size="7" fill="#4D4D4D" text-anchor="end">ODZ2</text>
<text transform="translate(416.02 283) rotate(-90) scale(1 1.2)" font-size="7" fill="#4D4D4D" text-anchor="end">LPA</text>
<text transform="translate(434.74 283) rotate(-90) scale(1 1.2)" font-size="7" fill="#4D4D4D" text-anchor="end">LOC254312</text>
<text transform="translate(453.46 283) rotate(-90) scale(1 1.2)" font-size="7" fill="#4D4D4D" text-anchor="end">TSLP</text>
<text transform="translate(356.5 10.1) scale(1 1.2)" font-size="8.3" fill="#000" text-anchor="middle">TCGA</text>
<text transform="translate(356.5 318.3) scale(1 1.2)" font-size="8.3" fill="#000" text-anchor="middle">TCGA</text>
<text transform="translate(200.43 168.5) rotate(-90) scale(1 1.2)" font-size="8.3" fill="#000" text-anchor="middle">GEO</text>
<text transform="translate(504.67 166.3) rotate(90) scale(1 1.2)" font-size="8.3" fill="#000" text-anchor="middle">GEO</text>
<text transform="translate(231.27 44.97) rotate(-45) scale(1 1.2)" font-size="8.3" fill="#000" text-anchor="middle">LumA</text>
<text transform="translate(486.77 300.07) rotate(-45) scale(1 1.2)" font-size="8.3" fill="#000" text-anchor="middle">LumB</text>
<text transform="translate(475.63 53.87) rotate(45) scale(1 1.2)" font-size="7" fill="#4D4D4D" text-anchor="middle">P = 0.05</text>
<text transform="translate(241.53 288.87) rotate(45) scale(1 1.2)" font-size="7" fill="#4D4D4D" text-anchor="middle">P = 0.05</text>
<text transform="translate(516.9 134.4) scale(1 1.05)" font-size="7" fill="#000" text-anchor="start">Pvalue</text>
<defs><linearGradient id="gP" x1="0" y1="0" x2="0" y2="1"><stop offset="0" stop-color="#C0167A"/><stop offset="0.04" stop-color="#CF3C8F"/><stop offset="0.25" stop-color="#E8A0CA"/><stop offset="0.55" stop-color="#F7F7F5"/><stop offset="0.8" stop-color="#A8D775"/><stop offset="1" stop-color="#4A9020"/></linearGradient></defs>
<rect x="517.8" y="139.6" width="11.7" height="57.8" fill="url(#gP)"/>
<text transform="translate(531.5 143.06) scale(1 1.2)" font-size="7" fill="#4D4D4D" text-anchor="start">1.00</text>
<text transform="translate(531.5 156.46) scale(1 1.2)" font-size="7" fill="#4D4D4D" text-anchor="start">0.75</text>
<text transform="translate(531.5 170.96) scale(1 1.2)" font-size="7" fill="#4D4D4D" text-anchor="start">0.50</text>
<text transform="translate(531.5 185.16) scale(1 1.2)" font-size="7" fill="#4D4D4D" text-anchor="start">0.25</text>
</svg>
</body></html>
